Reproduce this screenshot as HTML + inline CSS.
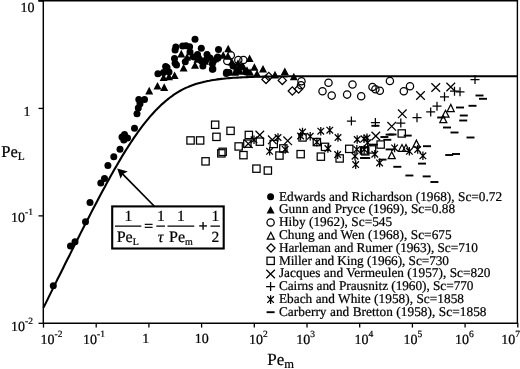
<!DOCTYPE html>
<html><head><meta charset="utf-8"><title>Pe plot</title>
<style>html,body{margin:0;padding:0;background:#fff}body{width:520px;height:369px;overflow:hidden}</style></head>
<body>
<svg width="520" height="369" viewBox="0 0 520 369" style="display:block;text-rendering:geometricPrecision;font-family:'Liberation Serif',serif" fill="#000">
<style>text{stroke:#000;stroke-width:0.22px}</style>
<rect width="520" height="369" fill="#fff"/>
<path d="M43.3 0V323.2H518.1" fill="none" stroke="#000" stroke-width="1.45"/>
<path d="M38.3 0.8H518.1" fill="none" stroke="#000" stroke-width="1.6"/>
<path d="M517.4 0V323.9" fill="none" stroke="#000" stroke-width="1.4"/>
<path d="M43.50 323.3v4.3" stroke="#000" stroke-width="1.3"/>
<path d="M96.20 323.3v4.3" stroke="#000" stroke-width="1.3"/>
<path d="M148.90 323.3v4.3" stroke="#000" stroke-width="1.3"/>
<path d="M201.60 323.3v4.3" stroke="#000" stroke-width="1.3"/>
<path d="M254.30 323.3v4.3" stroke="#000" stroke-width="1.3"/>
<path d="M307.00 323.3v4.3" stroke="#000" stroke-width="1.3"/>
<path d="M359.70 323.3v4.3" stroke="#000" stroke-width="1.3"/>
<path d="M412.40 323.3v4.3" stroke="#000" stroke-width="1.3"/>
<path d="M465.10 323.3v4.3" stroke="#000" stroke-width="1.3"/>
<path d="M517.80 323.3v4.3" stroke="#000" stroke-width="1.3"/>
<path d="M43.5 323.30h-5" stroke="#000" stroke-width="1.3"/>
<path d="M43.5 215.87h-5" stroke="#000" stroke-width="1.3"/>
<path d="M43.5 108.43h-5" stroke="#000" stroke-width="1.3"/>
<path d="M43.5 1.00h-5" stroke="#000" stroke-width="1.3"/>
<path d="M43.5 307.6L45.5 303.6L47.5 299.6L49.4 295.6L51.4 291.6L53.4 287.6L55.4 283.6L57.3 279.6L59.3 275.7L61.3 271.7L63.3 267.7L65.2 263.8L67.2 259.8L69.2 255.9L71.2 251.9L73.1 248.0L75.1 244.1L77.1 240.2L79.1 236.2L81.0 232.4L83.0 228.5L85.0 224.6L87.0 220.8L89.0 216.9L90.9 213.1L92.9 209.3L94.9 205.5L96.9 201.7L98.8 198.0L100.8 194.3L102.8 190.6L104.8 186.9L106.7 183.3L108.7 179.7L110.7 176.1L112.7 172.6L114.6 169.1L116.6 165.7L118.6 162.3L120.6 158.9L122.5 155.6L124.5 152.4L126.5 149.2L128.5 146.1L130.5 143.0L132.4 140.1L134.4 137.1L136.4 134.3L138.4 131.5L140.3 128.8L142.3 126.2L144.3 123.6L146.3 121.2L148.2 118.8L150.2 116.4L152.2 114.2L154.2 112.0L156.1 109.9L158.1 107.9L160.1 106.0L162.1 104.1L164.1 102.4L166.0 100.7L168.0 99.1L170.0 97.5L172.0 96.1L173.9 94.7L175.9 93.4L177.9 92.1L179.9 91.0L181.8 89.9L183.8 88.9L185.8 87.9L187.8 87.1L189.7 86.2L191.7 85.5L193.7 84.8L195.7 84.1L197.6 83.5L199.6 82.9L201.6 82.4L203.6 81.9L205.6 81.5L207.5 81.0L209.5 80.7L211.5 80.3L213.5 80.0L215.4 79.7L217.4 79.4L219.4 79.1L221.4 78.9L223.3 78.7L225.3 78.5L227.3 78.3L229.3 78.1L231.2 78.0L233.2 77.8L235.2 77.7L237.2 77.6L239.1 77.5L241.1 77.4L243.1 77.3L245.1 77.2L247.1 77.1L249.0 77.0L251.0 76.9L253.0 76.9L255.0 76.8L256.9 76.8L258.9 76.7L260.9 76.7L262.9 76.6L264.8 76.6L266.8 76.6L268.8 76.5L270.8 76.5L272.7 76.5L274.7 76.5L276.7 76.4L278.7 76.4L280.6 76.4L282.6 76.4L284.6 76.4L286.6 76.4L288.6 76.3L290.5 76.3L292.5 76.3L294.5 76.3L296.5 76.3L298.4 76.3L300.4 76.3L302.4 76.3L304.4 76.3L306.3 76.3L308.3 76.3L310.3 76.2L312.3 76.2L314.2 76.2L316.2 76.2L318.2 76.2L320.2 76.2L322.2 76.2L324.1 76.2L326.1 76.2L328.1 76.2L330.1 76.2L332.0 76.2L334.0 76.2L336.0 76.2L338.0 76.2L339.9 76.2L341.9 76.2L343.9 76.2L345.9 76.2L347.8 76.2L349.8 76.2L351.8 76.2L353.8 76.2L355.7 76.2L357.7 76.2L359.7 76.2L361.7 76.2L363.7 76.2L365.6 76.2L367.6 76.2L369.6 76.2L371.6 76.2L373.5 76.2L375.5 76.2L377.5 76.2L379.5 76.2L381.4 76.2L383.4 76.2L385.4 76.2L387.4 76.2L389.3 76.2L391.3 76.2L393.3 76.2L395.3 76.2L397.2 76.2L399.2 76.2L401.2 76.2L403.2 76.2L405.2 76.2L407.1 76.2L409.1 76.2L411.1 76.2L413.1 76.2L415.0 76.2L417.0 76.2L419.0 76.2L421.0 76.2L422.9 76.2L424.9 76.2L426.9 76.2L428.9 76.2L430.8 76.2L432.8 76.2L434.8 76.2L436.8 76.2L438.7 76.2L440.7 76.2L442.7 76.2L444.7 76.2L446.7 76.2L448.6 76.2L450.6 76.2L452.6 76.2L454.6 76.2L456.5 76.2L458.5 76.2L460.5 76.2L462.5 76.2L464.4 76.2L466.4 76.2L468.4 76.2L470.4 76.2L472.3 76.2L474.3 76.2L476.3 76.2L478.3 76.2L480.3 76.2L482.2 76.2L484.2 76.2L486.2 76.2L488.2 76.2L490.1 76.2L492.1 76.2L494.1 76.2L496.1 76.2L498.0 76.2L500.0 76.2L502.0 76.2L504.0 76.2L505.9 76.2L507.9 76.2L509.9 76.2L511.9 76.2L513.8 76.2L515.8 76.2L517.8 76.2" fill="none" stroke="#000" stroke-width="2.1" stroke-linejoin="round"/>
<circle cx="53.3" cy="285.7" r="3.5" fill="#000"/>
<circle cx="70.5" cy="246.0" r="3.5" fill="#000"/>
<circle cx="75.0" cy="241.8" r="3.5" fill="#000"/>
<circle cx="85.5" cy="221.8" r="3.5" fill="#000"/>
<circle cx="90.0" cy="202.5" r="3.5" fill="#000"/>
<circle cx="100.8" cy="183.0" r="3.5" fill="#000"/>
<circle cx="104.5" cy="178.5" r="3.5" fill="#000"/>
<circle cx="107.9" cy="165.6" r="3.5" fill="#000"/>
<circle cx="113.8" cy="156.8" r="3.5" fill="#000"/>
<circle cx="120.0" cy="149.3" r="3.5" fill="#000"/>
<circle cx="123.8" cy="140.0" r="3.5" fill="#000"/>
<circle cx="127.5" cy="138.0" r="3.5" fill="#000"/>
<circle cx="122.0" cy="137.0" r="3.5" fill="#000"/>
<circle cx="124.5" cy="134.5" r="3.5" fill="#000"/>
<circle cx="134.5" cy="128.3" r="3.5" fill="#000"/>
<circle cx="137.0" cy="113.8" r="3.5" fill="#000"/>
<circle cx="138.3" cy="108.0" r="3.5" fill="#000"/>
<circle cx="140.0" cy="103.8" r="3.5" fill="#000"/>
<circle cx="138.8" cy="99.5" r="3.5" fill="#000"/>
<circle cx="144.5" cy="99.5" r="3.5" fill="#000"/>
<circle cx="157.9" cy="73.8" r="3.5" fill="#000"/>
<circle cx="165.6" cy="66.5" r="3.5" fill="#000"/>
<circle cx="167.0" cy="67.5" r="3.5" fill="#000"/>
<circle cx="169.0" cy="72.0" r="3.5" fill="#000"/>
<circle cx="163.5" cy="72.5" r="3.5" fill="#000"/>
<circle cx="175.8" cy="46.9" r="3.5" fill="#000"/>
<circle cx="182.6" cy="46.0" r="3.5" fill="#000"/>
<circle cx="186.0" cy="45.8" r="3.5" fill="#000"/>
<circle cx="189.6" cy="46.8" r="3.5" fill="#000"/>
<circle cx="175.1" cy="50.0" r="3.5" fill="#000"/>
<circle cx="174.5" cy="58.4" r="3.5" fill="#000"/>
<circle cx="175.1" cy="63.2" r="3.5" fill="#000"/>
<circle cx="176.5" cy="65.0" r="3.5" fill="#000"/>
<circle cx="185.3" cy="61.8" r="3.5" fill="#000"/>
<circle cx="195.0" cy="39.2" r="3.5" fill="#000"/>
<circle cx="201.3" cy="48.3" r="3.5" fill="#000"/>
<circle cx="197.5" cy="54.4" r="3.5" fill="#000"/>
<circle cx="207.0" cy="54.4" r="3.5" fill="#000"/>
<circle cx="201.5" cy="61.0" r="3.5" fill="#000"/>
<circle cx="202.9" cy="66.0" r="3.5" fill="#000"/>
<circle cx="212.4" cy="69.2" r="3.5" fill="#000"/>
<circle cx="212.4" cy="63.8" r="3.5" fill="#000"/>
<circle cx="218.5" cy="49.6" r="3.5" fill="#000"/>
<circle cx="217.8" cy="57.0" r="3.5" fill="#000"/>
<circle cx="226.3" cy="73.5" r="3.5" fill="#000"/>
<circle cx="218.0" cy="58.0" r="3.5" fill="#000"/>
<circle cx="190.0" cy="52.0" r="3.5" fill="#000"/>
<circle cx="194.0" cy="57.0" r="3.5" fill="#000"/>
<circle cx="206.0" cy="60.0" r="3.5" fill="#000"/>
<circle cx="210.0" cy="58.0" r="3.5" fill="#000"/>
<circle cx="229.0" cy="72.5" r="3.5" fill="#000"/>
<circle cx="233.0" cy="66.0" r="3.5" fill="#000"/>
<circle cx="237.0" cy="70.0" r="3.5" fill="#000"/>
<circle cx="213.5" cy="61.0" r="3.5" fill="#000"/>
<circle cx="212.9" cy="69.0" r="3.5" fill="#000"/>
<circle cx="241.0" cy="67.0" r="3.5" fill="#000"/>
<circle cx="246.0" cy="72.0" r="3.5" fill="#000"/>
<circle cx="226.6" cy="72.2" r="3.5" fill="#000"/>
<path d="M145.2 94.4L153.2 94.4L149.2 86.8Z" fill="#000"/>
<path d="M153.5 89.6L161.5 89.6L157.5 82.0Z" fill="#000"/>
<path d="M160.2 90.9L168.2 90.9L164.2 83.3Z" fill="#000"/>
<path d="M170.6 79.0L178.6 79.0L174.6 71.4Z" fill="#000"/>
<path d="M165.0 80.3L173.0 80.3L169.0 72.7Z" fill="#000"/>
<path d="M159.6 81.1L167.6 81.1L163.6 73.5Z" fill="#000"/>
<path d="M179.6 71.5L187.6 71.5L183.6 63.9Z" fill="#000"/>
<path d="M191.0 68.8L199.0 68.8L195.0 61.2Z" fill="#000"/>
<path d="M177.3 57.4L185.3 57.4L181.3 49.8Z" fill="#000"/>
<path d="M188.0 59.5L196.0 59.5L192.0 51.9Z" fill="#000"/>
<path d="M193.5 62.8L201.5 62.8L197.5 55.2Z" fill="#000"/>
<path d="M201.0 64.8L209.0 64.8L205.0 57.2Z" fill="#000"/>
<path d="M204.3 58.8L212.3 58.8L208.3 51.2Z" fill="#000"/>
<path d="M211.0 62.2L219.0 62.2L215.0 54.6Z" fill="#000"/>
<path d="M219.2 58.8L227.2 58.8L223.2 51.2Z" fill="#000"/>
<path d="M224.2 52.3L232.2 52.3L228.2 44.7Z" fill="#000"/>
<path d="M183.0 60.8L191.0 60.8L187.0 53.2Z" fill="#000"/>
<path d="M196.0 60.8L204.0 60.8L200.0 53.2Z" fill="#000"/>
<path d="M224.0 59.8L232.0 59.8L228.0 52.2Z" fill="#000"/>
<path d="M228.0 65.8L236.0 65.8L232.0 58.2Z" fill="#000"/>
<path d="M234.0 66.8L242.0 66.8L238.0 59.2Z" fill="#000"/>
<path d="M239.0 69.8L247.0 69.8L243.0 62.2Z" fill="#000"/>
<path d="M236.0 74.8L244.0 74.8L240.0 67.2Z" fill="#000"/>
<path d="M243.0 73.8L251.0 73.8L247.0 66.2Z" fill="#000"/>
<path d="M245.6 62.1L253.6 62.1L249.6 54.5Z" fill="#000"/>
<path d="M250.4 70.8L258.4 70.8L254.4 63.2Z" fill="#000"/>
<path d="M253.0 77.3L261.0 77.3L257.0 69.7Z" fill="#000"/>
<path d="M259.0 72.6L267.0 72.6L263.0 65.0Z" fill="#000"/>
<path d="M271.0 78.4L279.0 78.4L275.0 70.8Z" fill="#000"/>
<path d="M280.8 75.1L288.8 75.1L284.8 67.5Z" fill="#000"/>
<path d="M289.8 80.3L297.8 80.3L293.8 72.7Z" fill="#000"/>
<path d="M246.0 75.8L254.0 75.8L250.0 68.2Z" fill="#000"/>
<path d="M231.0 75.8L239.0 75.8L235.0 68.2Z" fill="#000"/>
<circle cx="230.8" cy="55.3" r="3.65" fill="none" stroke="#000" stroke-width="1.25"/>
<circle cx="227.3" cy="61.0" r="3.65" fill="none" stroke="#000" stroke-width="1.25"/>
<circle cx="238.3" cy="60.0" r="3.65" fill="none" stroke="#000" stroke-width="1.25"/>
<circle cx="243.4" cy="60.0" r="3.65" fill="none" stroke="#000" stroke-width="1.25"/>
<circle cx="301.5" cy="81.3" r="3.65" fill="none" stroke="#000" stroke-width="1.25"/>
<circle cx="301.0" cy="85.2" r="3.65" fill="none" stroke="#000" stroke-width="1.25"/>
<circle cx="328.5" cy="82.7" r="3.65" fill="none" stroke="#000" stroke-width="1.25"/>
<circle cx="322.5" cy="91.2" r="3.65" fill="none" stroke="#000" stroke-width="1.25"/>
<circle cx="331.7" cy="95.6" r="3.65" fill="none" stroke="#000" stroke-width="1.25"/>
<circle cx="352.5" cy="84.4" r="3.65" fill="none" stroke="#000" stroke-width="1.25"/>
<circle cx="347.1" cy="94.6" r="3.65" fill="none" stroke="#000" stroke-width="1.25"/>
<circle cx="361.2" cy="96.2" r="3.65" fill="none" stroke="#000" stroke-width="1.25"/>
<circle cx="372.5" cy="86.9" r="3.65" fill="none" stroke="#000" stroke-width="1.25"/>
<circle cx="375.4" cy="89.2" r="3.65" fill="none" stroke="#000" stroke-width="1.25"/>
<circle cx="379.8" cy="90.8" r="3.65" fill="none" stroke="#000" stroke-width="1.25"/>
<circle cx="389.9" cy="80.9" r="3.65" fill="none" stroke="#000" stroke-width="1.25"/>
<circle cx="403.8" cy="91.2" r="3.65" fill="none" stroke="#000" stroke-width="1.25"/>
<circle cx="410.0" cy="86.2" r="3.65" fill="none" stroke="#000" stroke-width="1.25"/>
<path d="M264.7 76.5L268.8 72.4L272.9 76.5L268.8 80.6Z" fill="none" stroke="#000" stroke-width="1.25"/>
<path d="M261.9 79.4L266.0 75.3L270.1 79.4L266.0 83.5Z" fill="none" stroke="#000" stroke-width="1.25"/>
<path d="M278.2 80.4L282.3 76.3L286.4 80.4L282.3 84.5Z" fill="none" stroke="#000" stroke-width="1.25"/>
<path d="M288.2 91.0L292.3 86.9L296.4 91.0L292.3 95.1Z" fill="none" stroke="#000" stroke-width="1.25"/>
<path d="M294.5 89.0L298.6 84.9L302.7 89.0L298.6 93.1Z" fill="none" stroke="#000" stroke-width="1.25"/>
<rect x="211.5" y="121.1" width="7.3" height="7.3" fill="none" stroke="#000" stroke-width="1.25"/>
<rect x="226.9" y="127.2" width="7.3" height="7.3" fill="none" stroke="#000" stroke-width="1.25"/>
<rect x="212.8" y="133.2" width="7.3" height="7.3" fill="none" stroke="#000" stroke-width="1.25"/>
<rect x="186.9" y="136.8" width="7.3" height="7.3" fill="none" stroke="#000" stroke-width="1.25"/>
<rect x="196.5" y="136.8" width="7.3" height="7.3" fill="none" stroke="#000" stroke-width="1.25"/>
<rect x="245.2" y="131.3" width="7.3" height="7.3" fill="none" stroke="#000" stroke-width="1.25"/>
<rect x="235.0" y="142.8" width="7.3" height="7.3" fill="none" stroke="#000" stroke-width="1.25"/>
<rect x="243.7" y="140.0" width="7.3" height="7.3" fill="none" stroke="#000" stroke-width="1.25"/>
<rect x="256.2" y="138.0" width="7.3" height="7.3" fill="none" stroke="#000" stroke-width="1.25"/>
<rect x="219.0" y="148.2" width="7.3" height="7.3" fill="none" stroke="#000" stroke-width="1.25"/>
<rect x="217.7" y="149.7" width="7.3" height="7.3" fill="none" stroke="#000" stroke-width="1.25"/>
<rect x="239.8" y="151.5" width="7.3" height="7.3" fill="none" stroke="#000" stroke-width="1.25"/>
<rect x="201.9" y="157.7" width="7.3" height="7.3" fill="none" stroke="#000" stroke-width="1.25"/>
<rect x="252.8" y="165.0" width="7.3" height="7.3" fill="none" stroke="#000" stroke-width="1.25"/>
<rect x="264.2" y="166.9" width="7.3" height="7.3" fill="none" stroke="#000" stroke-width="1.25"/>
<rect x="270.1" y="140.3" width="7.3" height="7.3" fill="none" stroke="#000" stroke-width="1.25"/>
<rect x="279.7" y="144.8" width="7.3" height="7.3" fill="none" stroke="#000" stroke-width="1.25"/>
<rect x="275.8" y="151.9" width="7.3" height="7.3" fill="none" stroke="#000" stroke-width="1.25"/>
<rect x="297.0" y="150.5" width="7.3" height="7.3" fill="none" stroke="#000" stroke-width="1.25"/>
<rect x="298.9" y="133.8" width="7.3" height="7.3" fill="none" stroke="#000" stroke-width="1.25"/>
<rect x="313.2" y="138.4" width="7.3" height="7.3" fill="none" stroke="#000" stroke-width="1.25"/>
<rect x="321.4" y="143.2" width="7.3" height="7.3" fill="none" stroke="#000" stroke-width="1.25"/>
<rect x="317.2" y="153.0" width="7.3" height="7.3" fill="none" stroke="#000" stroke-width="1.25"/>
<rect x="336.0" y="154.8" width="7.3" height="7.3" fill="none" stroke="#000" stroke-width="1.25"/>
<rect x="345.6" y="145.2" width="7.3" height="7.3" fill="none" stroke="#000" stroke-width="1.25"/>
<rect x="360.4" y="146.8" width="7.3" height="7.3" fill="none" stroke="#000" stroke-width="1.25"/>
<rect x="398.1" y="129.8" width="7.3" height="7.3" fill="none" stroke="#000" stroke-width="1.25"/>
<rect x="377.0" y="140.9" width="7.3" height="7.3" fill="none" stroke="#000" stroke-width="1.25"/>
<rect x="361.6" y="147.7" width="7.3" height="7.3" fill="none" stroke="#000" stroke-width="1.25"/>
<rect x="368.4" y="145.8" width="7.3" height="7.3" fill="none" stroke="#000" stroke-width="1.25"/>
<path d="M244.0 139.4L252.6 148.0M244.0 148.0L252.6 139.4" stroke="#000" stroke-width="1.25" fill="none"/>
<path d="M255.5 130.7L264.1 139.3M255.5 139.3L264.1 130.7" stroke="#000" stroke-width="1.25" fill="none"/>
<path d="M268.0 135.5L276.6 144.1M268.0 144.1L276.6 135.5" stroke="#000" stroke-width="1.25" fill="none"/>
<path d="M283.4 136.5L292.0 145.1M283.4 145.1L292.0 136.5" stroke="#000" stroke-width="1.25" fill="none"/>
<path d="M387.4 122.0L396.0 130.6M387.4 130.6L396.0 122.0" stroke="#000" stroke-width="1.25" fill="none"/>
<path d="M398.0 109.5L406.6 118.1M398.0 118.1L406.6 109.5" stroke="#000" stroke-width="1.25" fill="none"/>
<path d="M371.5 131.7L380.1 140.3M371.5 140.3L380.1 131.7" stroke="#000" stroke-width="1.25" fill="none"/>
<path d="M431.4 83.2L440.1 91.8M431.4 91.8L440.1 83.2" stroke="#000" stroke-width="1.25" fill="none"/>
<path d="M416.2 91.2L424.8 99.8M416.2 99.8L424.8 91.2" stroke="#000" stroke-width="1.25" fill="none"/>
<path d="M446.4 82.7L455.1 91.3M446.4 91.3L455.1 82.7" stroke="#000" stroke-width="1.25" fill="none"/>
<path d="M346.9 121.0L355.9 121.0M351.4 116.5L351.4 125.5" stroke="#000" stroke-width="1.25" fill="none"/>
<path d="M370.9 122.5L379.9 122.5M375.4 118.0L375.4 127.0" stroke="#000" stroke-width="1.25" fill="none"/>
<path d="M412.5 117.7L421.5 117.7M417.0 113.2L417.0 122.2" stroke="#000" stroke-width="1.25" fill="none"/>
<path d="M396.3 123.0L405.3 123.0M400.8 118.5L400.8 127.5" stroke="#000" stroke-width="1.25" fill="none"/>
<path d="M426.2 111.9L435.2 111.9M430.7 107.4L430.7 116.4" stroke="#000" stroke-width="1.25" fill="none"/>
<path d="M470.5 79.5L479.5 79.5M475.0 75.0L475.0 84.0" stroke="#000" stroke-width="1.25" fill="none"/>
<path d="M450.0 91.2L459.0 91.2M454.5 86.8L454.5 95.8" stroke="#000" stroke-width="1.25" fill="none"/>
<path d="M455.5 91.8L464.5 91.8M460.0 87.2L460.0 96.2" stroke="#000" stroke-width="1.25" fill="none"/>
<path d="M440.0 96.8L449.0 96.8M444.5 92.2L444.5 101.2" stroke="#000" stroke-width="1.25" fill="none"/>
<path d="M432.5 106.2L441.5 106.2M437.0 101.8L437.0 110.8" stroke="#000" stroke-width="1.25" fill="none"/>
<path d="M250.7 136.5L257.3 143.1M250.7 143.1L257.3 136.5M254.0 135.5L254.0 144.1" stroke="#000" stroke-width="1.25" fill="none"/>
<path d="M266.3 148.0L272.9 154.6M266.3 154.6L272.9 148.0M269.6 147.0L269.6 155.6" stroke="#000" stroke-width="1.25" fill="none"/>
<path d="M274.7 134.2L281.3 140.8M274.7 140.8L281.3 134.2M278.0 133.2L278.0 141.8" stroke="#000" stroke-width="1.25" fill="none"/>
<path d="M281.9 146.1L288.5 152.7M281.9 152.7L288.5 146.1M285.2 145.1L285.2 153.7" stroke="#000" stroke-width="1.25" fill="none"/>
<path d="M299.2 128.8L305.8 135.4M299.2 135.4L305.8 128.8M302.5 127.8L302.5 136.4" stroke="#000" stroke-width="1.25" fill="none"/>
<path d="M297.3 132.7L303.9 139.3M297.3 139.3L303.9 132.7M300.6 131.7L300.6 140.3" stroke="#000" stroke-width="1.25" fill="none"/>
<path d="M306.9 133.0L313.5 139.6M306.9 139.6L313.5 133.0M310.2 132.0L310.2 140.6" stroke="#000" stroke-width="1.25" fill="none"/>
<path d="M317.5 127.9L324.1 134.5M317.5 134.5L324.1 127.9M320.8 126.9L320.8 135.5" stroke="#000" stroke-width="1.25" fill="none"/>
<path d="M326.5 126.9L333.1 133.5M326.5 133.5L333.1 126.9M329.8 125.9L329.8 134.5" stroke="#000" stroke-width="1.25" fill="none"/>
<path d="M334.7 134.2L341.3 140.8M334.7 140.8L341.3 134.2M338.0 133.2L338.0 141.8" stroke="#000" stroke-width="1.25" fill="none"/>
<path d="M313.6 138.8L320.2 145.4M313.6 145.4L320.2 138.8M316.9 137.8L316.9 146.4" stroke="#000" stroke-width="1.25" fill="none"/>
<path d="M324.6 145.2L331.2 151.8M324.6 151.8L331.2 145.2M327.9 144.2L327.9 152.8" stroke="#000" stroke-width="1.25" fill="none"/>
<path d="M334.4 151.3L341.0 157.9M334.4 157.9L341.0 151.3M337.7 150.3L337.7 158.9" stroke="#000" stroke-width="1.25" fill="none"/>
<path d="M353.9 136.2L360.5 142.8M353.9 142.8L360.5 136.2M357.2 135.2L357.2 143.8" stroke="#000" stroke-width="1.25" fill="none"/>
<path d="M353.5 146.1L360.1 152.7M353.5 152.7L360.1 146.1M356.8 145.1L356.8 153.7" stroke="#000" stroke-width="1.25" fill="none"/>
<path d="M351.7 152.9L358.3 159.5M351.7 159.5L358.3 152.9M355.0 151.9L355.0 160.5" stroke="#000" stroke-width="1.25" fill="none"/>
<path d="M352.4 161.3L359.0 167.9M352.4 167.9L359.0 161.3M355.7 160.3L355.7 168.9" stroke="#000" stroke-width="1.25" fill="none"/>
<path d="M360.7 135.5L367.3 142.1M360.7 142.1L367.3 135.5M364.0 134.5L364.0 143.1" stroke="#000" stroke-width="1.25" fill="none"/>
<path d="M363.7 134.6L370.3 141.2M363.7 141.2L370.3 134.6M367.0 133.6L367.0 142.2" stroke="#000" stroke-width="1.25" fill="none"/>
<path d="M360.9 146.1L367.5 152.7M360.9 152.7L367.5 146.1M364.2 145.1L364.2 153.7" stroke="#000" stroke-width="1.25" fill="none"/>
<path d="M371.5 150.9L378.1 157.5M371.5 157.5L378.1 150.9M374.8 149.9L374.8 158.5" stroke="#000" stroke-width="1.25" fill="none"/>
<path d="M376.3 159.6L382.9 166.2M376.3 166.2L382.9 159.6M379.6 158.6L379.6 167.2" stroke="#000" stroke-width="1.25" fill="none"/>
<path d="M391.3 144.6L397.9 151.2M391.3 151.2L397.9 144.6M394.6 143.6L394.6 152.2" stroke="#000" stroke-width="1.25" fill="none"/>
<path d="M406.1 148.0L412.7 154.6M406.1 154.6L412.7 148.0M409.4 147.0L409.4 155.6" stroke="#000" stroke-width="1.25" fill="none"/>
<path d="M414.4 146.1L421.0 152.7M414.4 152.7L421.0 146.1M417.7 145.1L417.7 153.7" stroke="#000" stroke-width="1.25" fill="none"/>
<path d="M419.6 152.5L426.2 159.1M419.6 159.1L426.2 152.5M422.9 151.5L422.9 160.1" stroke="#000" stroke-width="1.25" fill="none"/>
<path d="M364.4 139.4L371.0 146.0M364.4 146.0L371.0 139.4M367.7 138.4L367.7 147.0" stroke="#000" stroke-width="1.25" fill="none"/>
<path d="M475.5 95.5L483.5 95.5" stroke="#000" stroke-width="1.9" fill="none"/>
<path d="M479.0 98.8L487.0 98.8" stroke="#000" stroke-width="1.9" fill="none"/>
<path d="M468.5 105.8L476.5 105.8" stroke="#000" stroke-width="1.9" fill="none"/>
<path d="M456.0 107.5L464.0 107.5" stroke="#000" stroke-width="1.9" fill="none"/>
<path d="M459.8 115.5L467.8 115.5" stroke="#000" stroke-width="1.9" fill="none"/>
<path d="M459.2 120.5L467.2 120.5" stroke="#000" stroke-width="1.9" fill="none"/>
<path d="M437.2 117.5L445.2 117.5" stroke="#000" stroke-width="1.9" fill="none"/>
<path d="M443.0 127.5L451.0 127.5" stroke="#000" stroke-width="1.9" fill="none"/>
<path d="M450.5 132.5L458.5 132.5" stroke="#000" stroke-width="1.9" fill="none"/>
<path d="M466.5 137.5L474.5 137.5" stroke="#000" stroke-width="1.9" fill="none"/>
<path d="M423.0 146.2L431.0 146.2" stroke="#000" stroke-width="1.9" fill="none"/>
<path d="M403.7 135.6L411.7 135.6" stroke="#000" stroke-width="1.9" fill="none"/>
<path d="M388.5 134.5L396.5 134.5" stroke="#000" stroke-width="1.9" fill="none"/>
<path d="M371.4 125.8L379.4 125.8" stroke="#000" stroke-width="1.9" fill="none"/>
<path d="M385.6 134.6L393.6 134.6" stroke="#000" stroke-width="1.9" fill="none"/>
<path d="M380.4 137.0L388.4 137.0" stroke="#000" stroke-width="1.9" fill="none"/>
<path d="M383.3 139.8L391.3 139.8" stroke="#000" stroke-width="1.9" fill="none"/>
<path d="M369.8 144.6L377.8 144.6" stroke="#000" stroke-width="1.9" fill="none"/>
<path d="M385.6 149.4L393.6 149.4" stroke="#000" stroke-width="1.9" fill="none"/>
<path d="M362.2 158.0L370.2 158.0" stroke="#000" stroke-width="1.9" fill="none"/>
<path d="M393.3 166.8L401.3 166.8" stroke="#000" stroke-width="1.9" fill="none"/>
<path d="M418.0 163.6L426.0 163.6" stroke="#000" stroke-width="1.9" fill="none"/>
<path d="M405.4 175.5L413.4 175.5" stroke="#000" stroke-width="1.9" fill="none"/>
<path d="M422.7 176.4L430.7 176.4" stroke="#000" stroke-width="1.9" fill="none"/>
<path d="M430.4 182.0L438.4 182.0" stroke="#000" stroke-width="1.9" fill="none"/>
<path d="M378.5 159.6L386.5 159.6" stroke="#000" stroke-width="1.9" fill="none"/>
<path d="M445.2 155.0L453.2 155.0" stroke="#000" stroke-width="1.9" fill="none"/>
<path d="M452.0 154.0L460.0 154.0" stroke="#000" stroke-width="1.9" fill="none"/>
<path d="M360.0 158.0L368.0 158.0" stroke="#000" stroke-width="1.9" fill="none"/>
<path d="M447.2 111.5L454.2 111.5L450.8 104.5Z" fill="none" stroke="#000" stroke-width="1.25"/>
<path d="M442.0 117.2L449.0 117.2L445.5 110.3Z" fill="none" stroke="#000" stroke-width="1.25"/>
<path d="M439.8 122.7L446.8 122.7L443.2 115.8Z" fill="none" stroke="#000" stroke-width="1.25"/>
<path d="M412.9 147.1L419.9 147.1L416.4 140.2Z" fill="none" stroke="#000" stroke-width="1.25"/>
<path d="M398.5 151.3L405.5 151.3L402.0 144.5Z" fill="none" stroke="#000" stroke-width="1.25"/>
<path d="M402.5 151.3L409.5 151.3L406.0 144.5Z" fill="none" stroke="#000" stroke-width="1.25"/>
<path d="M388.2 158.6L395.2 158.6L391.7 151.8Z" fill="none" stroke="#000" stroke-width="1.25"/>
<path d="M154.6 206.5L120.5 171.8" stroke="#000" stroke-width="1.7" fill="none"/>
<path d="M117.2 168.4L127.8 171.4L122.9 174.1L120.6 178.8Z" fill="#000"/>
<rect x="112.2" y="206.4" width="111.5" height="42.1" fill="#fff" stroke="#000" stroke-width="2.1"/>
<g font-size="15.5px" text-anchor="middle">
<path d="M115 226.2H141.3M156.3 226.2H165M167.5 226.2H194.3M210.5 226.2H220" stroke="#000" stroke-width="1.25"/>
<text x="128.3" y="221.4">1</text>
<text x="127.7" y="241.6" font-size="16px">Pe<tspan font-size="10px" dy="3.5">L</tspan></text>
<text x="148.6" y="230.8" style="stroke-width:0.5px">=</text>
<text x="160.8" y="221.4">1</text>
<text x="160.5" y="241.6" font-style="italic" font-size="16px">τ</text>
<text x="180.8" y="221.4">1</text>
<text x="180.9" y="241.6" font-size="16px">Pe<tspan font-size="10px" dy="3.5">m</tspan></text>
<text x="203" y="230.8" style="stroke-width:0.5px">+</text>
<text x="215.3" y="221.4">1</text>
<text x="215.3" y="241.6">2</text>
</g>
<g font-size="13.3px">
<text x="278.9" y="200.50" textLength="223.3">Edwards and Richardson (1968), Sc=0.72</text>
<text x="278.9" y="213.33" textLength="176.3">Gunn and Pryce (1969), Sc=0.88</text>
<text x="278.9" y="226.16" textLength="113.3">Hiby (1962), Sc=545</text>
<text x="278.9" y="238.99" textLength="172.8">Chung and Wen (1968), Sc=675</text>
<text x="278.9" y="251.82" textLength="199.1">Harleman and Rumer (1963), Sc=710</text>
<text x="278.9" y="264.65" textLength="170.1">Miller and King (1966), Sc=730</text>
<text x="278.9" y="277.48" textLength="211.6">Jacques and Vermeulen (1957), Sc=820</text>
<text x="278.9" y="290.31" textLength="194.6">Cairns and Prausnitz (1960), Sc=770</text>
<text x="278.9" y="303.14" textLength="185.1">Ebach and White (1958), Sc=1858</text>
<text x="278.9" y="315.97" textLength="207.6">Carberry and Bretton (1958), Sc=1858</text>
</g>
<circle cx="270.6" cy="196.7" r="3.5" fill="#000"/>
<path d="M266.6 213.6L274.6 213.6L270.6 206.0Z" fill="#000"/>
<circle cx="270.6" cy="222.4" r="3.65" fill="none" stroke="#000" stroke-width="1.25"/>
<path d="M267.3 239.2L274.3 239.2L270.8 232.3Z" fill="none" stroke="#000" stroke-width="1.25"/>
<path d="M266.9 248.0L271.0 243.9L275.1 248.0L271.0 252.1Z" fill="none" stroke="#000" stroke-width="1.25"/>
<rect x="267.0" y="257.2" width="7.3" height="7.3" fill="none" stroke="#000" stroke-width="1.25"/>
<path d="M266.3 269.7L274.9 278.3M266.3 278.3L274.9 269.7" stroke="#000" stroke-width="1.25" fill="none"/>
<path d="M266.1 286.5L275.1 286.5M270.6 282.0L270.6 291.0" stroke="#000" stroke-width="1.25" fill="none"/>
<path d="M267.3 296.3L273.9 302.9M267.3 302.9L273.9 296.3M270.6 295.3L270.6 303.9" stroke="#000" stroke-width="1.25" fill="none"/>
<path d="M266.6 312.2L274.6 312.2" stroke="#000" stroke-width="1.9" fill="none"/>
<g font-size="14px">
<text x="20.5" y="12.4">10</text>
<text x="23.6" y="115.9">1</text>
<text x="11" y="221.5">10<tspan font-size="9.5px" dy="-7.0">-1</tspan></text>
<text x="11" y="331.2">10<tspan font-size="9.5px" dy="-7.0">-2</tspan></text>
<text x="40.6" y="344.2">10<tspan font-size="9.5px" dy="-7.0">-2</tspan></text>
<text x="83.1" y="344.2">10<tspan font-size="9.5px" dy="-7.0">-1</tspan></text>
<text x="142.3" y="342.6">1</text>
<text x="194.7" y="342.6">10</text>
<text x="249.1" y="344.2">10<tspan font-size="9.5px" dy="-7.0">2</tspan></text>
<text x="296.2" y="344.2">10<tspan font-size="9.5px" dy="-7.0">3</tspan></text>
<text x="354.5" y="344.2">10<tspan font-size="9.5px" dy="-7.0">4</tspan></text>
<text x="403.6" y="344.2">10<tspan font-size="9.5px" dy="-7.0">5</tspan></text>
<text x="455" y="344.2">10<tspan font-size="9.5px" dy="-7.0">6</tspan></text>
<text x="501.2" y="344.2">10<tspan font-size="9.5px" dy="-7.0">7</tspan></text>
</g>
<text x="1.3" y="157" font-size="16.5px">Pe<tspan font-size="11.5px" dy="2.9">L</tspan></text>
<text x="267.3" y="365" font-size="17px">Pe<tspan font-size="12.5px" dy="2.7">m</tspan></text>
</svg>
</body></html>
